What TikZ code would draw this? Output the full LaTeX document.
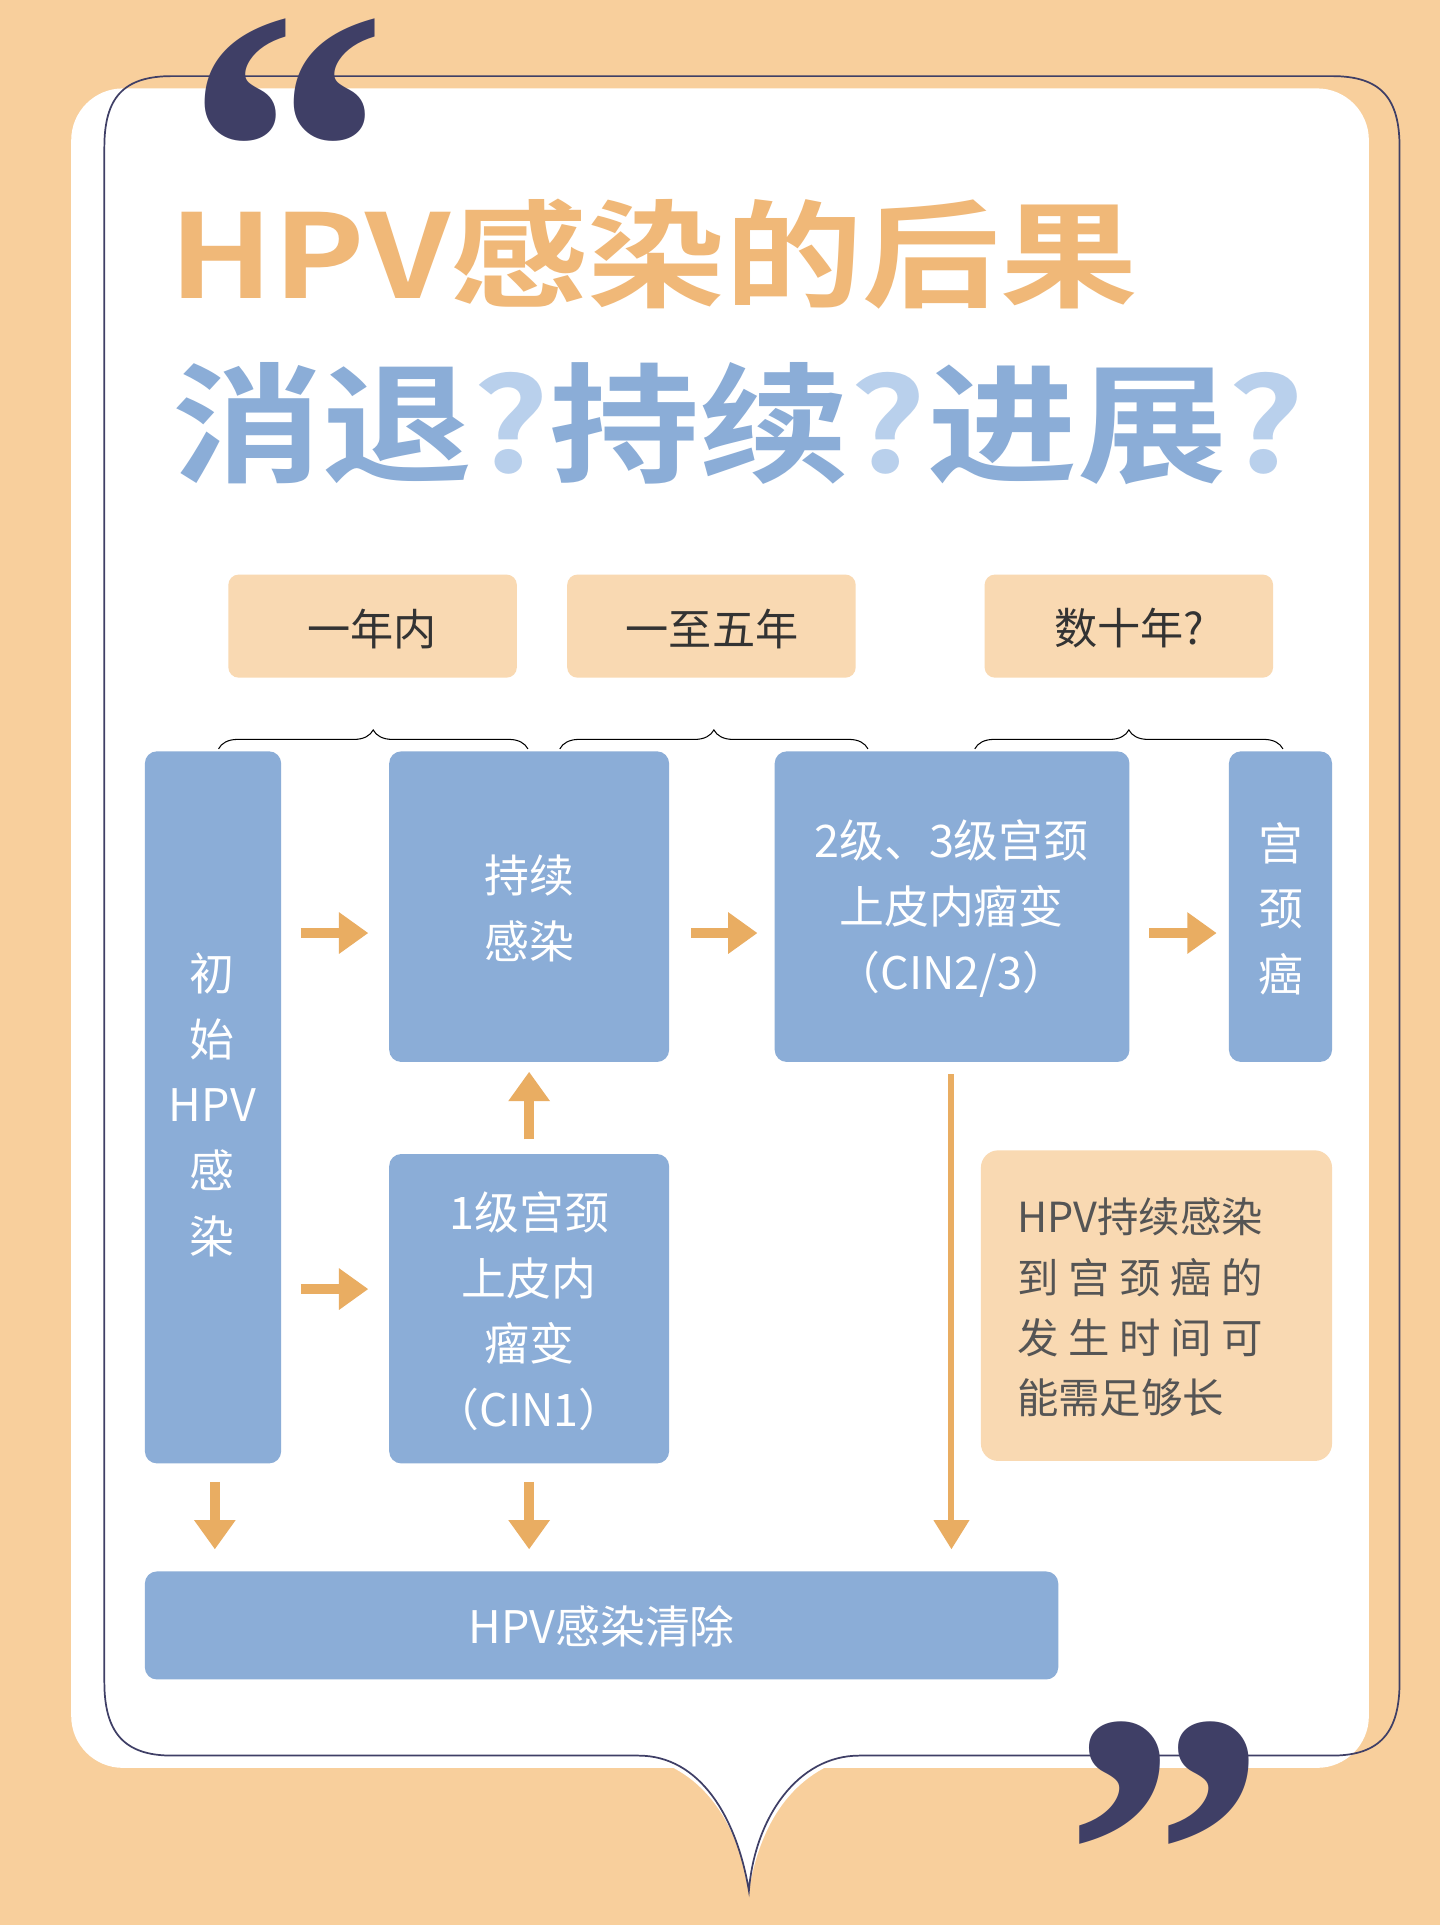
\documentclass[tikz,border=0pt]{standalone}
\usepackage{fontspec}
\newfontfamily\cjk{Noto Sans CJK SC}
\newfontfamily\cjkb{Noto Sans CJK SC}[BoldFont={* Bold}]
\newfontfamily\qfont{Liberation Serif}
\usetikzlibrary{decorations.pathreplacing,arrows.meta}
\definecolor{bgpeach}{HTML}{F8CF9C}
\definecolor{tagpeach}{HTML}{F9D9B2}
\definecolor{navy}{HTML}{3F3F66}
\definecolor{bluebox}{HTML}{8BADD7}
\definecolor{orangeT}{HTML}{F0B878}
\definecolor{lightq}{HTML}{B9D0EC}
\definecolor{arr}{HTML}{E9AD62}
\definecolor{notetext}{HTML}{555555}
\begin{document}
\begin{tikzpicture}[x=0.05cm,y=-0.05cm,
  bbox/.style={fill=bluebox,rounded corners=14pt,draw=none},
  btext/.style={text=white,font=\cjk\fontsize{52}{76}\selectfont,align=center},
  tag/.style={fill=tagpeach,rounded corners=12pt},
  ttext/.style={text=black!80,font=\cjk\fontsize{50}{60}\selectfont},
  oarrow/.style={arr,line width=11pt,-{Triangle[length=34pt,width=46pt]}},
  brc/.style={decorate,decoration={brace,amplitude=22pt},draw=black,line width=1.2pt}]
\useasboundingbox (0,0) rectangle (1173,1568);
\fill[bgpeach] (0,0) rectangle (1173,1568);
% white card with tail
\fill[white,rounded corners=60pt] (58,72) rectangle (1115,1440);
\fill[white] (520,1430) .. controls (570,1440) and (600,1480) .. (610,1540) .. controls (620,1480) and (650,1440) .. (700,1430) -- cycle;
\draw[navy,line width=2pt] (520,1430) -- (140,1430) .. controls (100,1430) and (85,1410) .. (85,1370) -- (85,120) .. controls (85,80) and (100,62) .. (140,62) -- (1085,62) .. controls (1125,62) and (1140,80) .. (1140,120) -- (1140,1370) .. controls (1140,1410) and (1125,1430) .. (1085,1430) -- (700,1430) .. controls (650,1430) and (615,1480) .. (610,1540) .. controls (600,1480) and (570,1430) .. (520,1430);
% quotes
\node[navy,font=\qfont\bfseries\fontsize{470}{470}\selectfont,inner sep=0] (q1) at (234,125) {“};
\node[navy,font=\qfont\bfseries\fontsize{470}{470}\selectfont,inner sep=0] (q2) at (950,1512) {”};
% titles
\node[orangeT,font=\cjkb\bfseries\fontsize{135}{140}\selectfont,anchor=west,inner sep=0,xscale=1.18,transform shape] (t1) at (138,207) {HPV感染的后果};
\node[font=\cjkb\bfseries\fontsize{150}{160}\selectfont,anchor=west,inner sep=0,xscale=1.16,transform shape] (t2) at (140,345) {\textcolor{bluebox}{消退}\textcolor{lightq}{?}\textcolor{bluebox}{持续}\textcolor{lightq}{?}\textcolor{bluebox}{进展}\textcolor{lightq}{?}};
% tags
\fill[tag] (186,468) rectangle (421,552); \node[ttext] (g1) at (303,512) {一年内};
\fill[tag] (462,468) rectangle (697,552); \node[ttext] (g2) at (580,512) {一至五年};
\fill[tag] (802,468) rectangle (1037,552); \node[ttext] (g3) at (920,512) {数十年?};
% braces
\draw[brc] (178,610) -- (430,610);
\draw[brc] (456,610) -- (707,610);
\draw[brc] (794,610) -- (1045,610);
% boxes
\fill[bbox] (118,612) rectangle (229,1192); \node[btext] (A) at (173,900) {初\\始\\HPV\\感\\染};
\fill[bbox] (317,612) rectangle (545,865); \node[btext] (B) at (431,740) {持续\\感染};
\fill[bbox] (631,612) rectangle (920,865); \node[btext] (C) at (775,740) {2级、3级宫颈\\上皮内瘤变\\（CIN2/3）};
\fill[bbox] (1001,612) rectangle (1085,865); \node[btext] (D) at (1043,740) {宫\\颈\\癌};
\fill[bbox] (317,940) rectangle (545,1192); \node[btext] (E) at (431,1068) {1级宫颈\\上皮内\\瘤变\\（CIN1）};
\fill[bbox] (118,1280) rectangle (862,1368); \node[btext] (F) at (490,1325) {HPV感染清除};
\fill[tag,rounded corners=20pt] (799,937) rectangle (1085,1190);
\node[text=notetext,font=\cjk\fontsize{48}{70}\selectfont,align=left,anchor=west] (N) at (826,1065) {HPV持续感染\\到\hfill 宫\hfill 颈\hfill 癌\hfill 的\\发\hfill 生\hfill 时\hfill 间\hfill 可\\能需足够长};
% arrows
\coordinate (a1s) at (245,760); \coordinate (a1e) at (300,760);
\coordinate (a2s) at (563,760); \coordinate (a2e) at (617,760);
\coordinate (a3s) at (936,760); \coordinate (a3e) at (991,760);
\coordinate (a4s) at (431,928); \coordinate (a4e) at (431,873);
\coordinate (a5s) at (245,1050); \coordinate (a5e) at (300,1050);
\coordinate (a6s) at (175,1207); \coordinate (a6e) at (175,1262);
\coordinate (a7s) at (431,1207); \coordinate (a7e) at (431,1262);
\coordinate (a8s) at (775,875); \coordinate (a8e) at (775,1262);
\foreach \i in {1,...,7} \draw[oarrow] (a\i s) -- (a\i e);
\draw[arr,line width=7pt,-{Triangle[length=34pt,width=40pt]}] (a8s) -- (a8e);
\end{tikzpicture}
\end{document}
